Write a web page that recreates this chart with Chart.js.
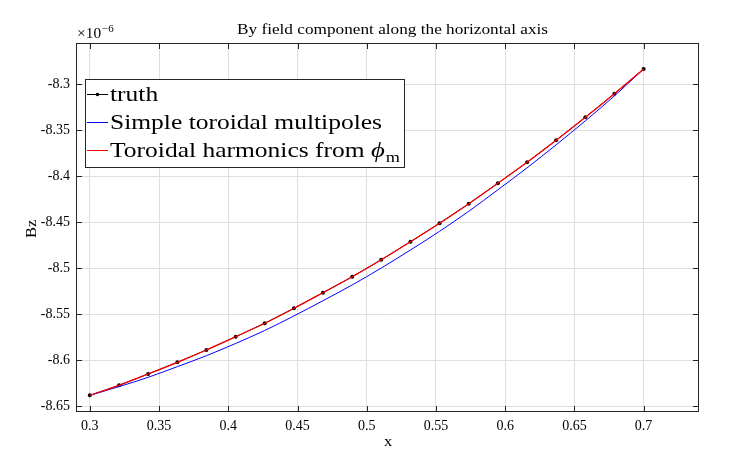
<!DOCTYPE html>
<html>
<head>
<meta charset="utf-8">
<script src="https://cdn.jsdelivr.net/npm/chart.js@4.4.1/dist/chart.umd.min.js"></script>
<style>
  html, body { margin: 0; padding: 0; background: #fff; }
  #wrap { width: 743px; height: 451px; }
</style>
</head>
<body>
<div id="wrap"><canvas id="chart"></canvas></div>
<script>
// values in units of 1e-6 (the axis shows the x10^-6 exponent)
const xVals = [0.3000, 0.3211, 0.3421, 0.3632, 0.3842, 0.4053, 0.4263, 0.4474, 0.4684, 0.4895,
               0.5105, 0.5316, 0.5526, 0.5737, 0.5947, 0.6158, 0.6368, 0.6579, 0.6789, 0.7000];
const truth = [-8.6384, -8.6275, -8.6152, -8.6025, -8.5891, -8.5747, -8.5601, -8.5438, -8.5268, -8.5095,
               -8.4910, -8.4714, -8.4514, -8.4301, -8.4079, -8.3851, -8.3612, -8.3362, -8.3105, -8.2837];
const simpleMultipoles = [-8.6384, -8.6289, -8.6188, -8.6072, -8.5953, -8.5820, -8.5679, -8.5521, -8.5355, -8.5184,
                          -8.5000, -8.4804, -8.4601, -8.4383, -8.4150, -8.3911, -8.3661, -8.3400, -8.3129, -8.2837];
const toroidalHarmonics = [-8.6384, -8.6275, -8.6152, -8.6025, -8.5891, -8.5747, -8.5601, -8.5438, -8.5268, -8.5095,
                           -8.4910, -8.4714, -8.4514, -8.4301, -8.4079, -8.3851, -8.3612, -8.3362, -8.3105, -8.2837];
const xTicks = [0.3, 0.35, 0.4, 0.45, 0.5, 0.55, 0.6, 0.65, 0.7];
const yTicks = [-8.65, -8.6, -8.55, -8.5, -8.45, -8.4, -8.35, -8.3];

const SERIF = '"Liberation Serif", "DejaVu Serif", serif';
const BOX = '#262626';

function pts(ys) {
    return xVals.map((x, i) => ({ x: x, y: ys[i] }));
}

// text stretched sideways by sx (the reference uses a wider serif face)
function wideText(ctx, text, x, y, sx) {
    ctx.save();
    ctx.translate(x, y);
    ctx.scale(sx, 1);
    ctx.fillText(text, 0, 0);
    ctx.restore();
    return ctx.measureText(text).width * sx;
}

// MATLAB style box, inner ticks, labels and legend
const matlabAxes = {
    id: 'matlabAxes',
    afterDraw(chart) {
        const { ctx, chartArea: a, scales } = chart;
        ctx.save();
        ctx.strokeStyle = BOX;
        ctx.lineWidth = 1;
        ctx.strokeRect(a.left + 0.5, a.top + 0.5, a.right - a.left - 1, a.bottom - a.top - 1);
        ctx.beginPath();
        xTicks.forEach(v => {
            const px = Math.round(scales.x.getPixelForValue(v)) + 0.5;
            ctx.moveTo(px, a.bottom); ctx.lineTo(px, a.bottom - 6);
            ctx.moveTo(px, a.top); ctx.lineTo(px, a.top + 6);
        });
        yTicks.forEach(v => {
            const py = Math.round(scales.y.getPixelForValue(v)) + 0.5;
            ctx.moveTo(a.left, py); ctx.lineTo(a.left + 6, py);
            ctx.moveTo(a.right, py); ctx.lineTo(a.right - 6, py);
        });
        ctx.stroke();

        // title, exponent, axis labels
        ctx.fillStyle = '#000';
        ctx.textBaseline = 'alphabetic';
        ctx.textAlign = 'left';
        ctx.font = '15px ' + SERIF;
        const title = 'By field component along the horizontal axis';
        const tsx = 311 / ctx.measureText(title).width;
        wideText(ctx, title, 237, 34, tsx);
        wideText(ctx, 'x', 384, 446, 1.1);
        ctx.save();
        ctx.translate(36, 238);
        ctx.rotate(-Math.PI / 2);
        wideText(ctx, 'Bz', 0, 0, 1.1);
        ctx.restore();
        ctx.font = '14px ' + SERIF;
        const ew = wideText(ctx, '\u00d710', 77, 38, 1.1);
        ctx.font = '10px ' + SERIF;
        wideText(ctx, '\u22126', 77 + ew + 1, 32, 1.1);

        // legend
        const lx = 85, ly = 79, lw = 319, lh = 88;
        ctx.fillStyle = '#fff';
        ctx.fillRect(lx, ly, lw, lh);
        ctx.strokeStyle = BOX;
        ctx.strokeRect(lx + 0.5, ly + 0.5, lw, lh);
        ctx.font = '21px ' + SERIF;
        const lsx = 272 / ctx.measureText('Simple toroidal multipoles').width;
        const rows = [
            { label: 'truth', color: '#000', y: 101, marker: true },
            { label: 'Simple toroidal multipoles', color: '#0000ff', y: 129 },
            { label: 'Toroidal harmonics from ', color: '#ff0000', y: 157, phi: true }
        ];
        rows.forEach(r => {
            const my = r.y - 7;
            ctx.strokeStyle = r.color;
            ctx.lineWidth = 1;
            ctx.beginPath();
            ctx.moveTo(87, my + 0.5); ctx.lineTo(108, my + 0.5);
            ctx.stroke();
            if (r.marker) {
                ctx.fillStyle = '#000';
                ctx.beginPath(); ctx.arc(97.5, my + 0.5, 1.8, 0, Math.PI * 2); ctx.fill();
            }
            ctx.fillStyle = '#000';
            ctx.font = '21px ' + SERIF;
            const w = wideText(ctx, r.label, 110, r.y, lsx);
            if (r.phi) {
                ctx.font = 'italic 22px ' + SERIF;
                const pw = wideText(ctx, '\u03d5', 110 + w, r.y, lsx);
                ctx.font = '15px ' + SERIF;
                wideText(ctx, 'm', 110 + w + pw + 1, r.y + 5, lsx);
            }
        });
        ctx.restore();
    }
};

new Chart(document.getElementById('chart'), {
    type: 'scatter',
    data: {
        datasets: [
            {
                label: 'truth',
                data: pts(truth),
                showLine: true,
                borderColor: '#000',
                backgroundColor: '#000',
                borderWidth: 1,
                pointRadius: 2,
                pointBorderWidth: 0,
                order: 3
            },
            {
                label: 'Simple toroidal multipoles',
                data: pts(simpleMultipoles),
                showLine: true,
                borderColor: '#0000ff',
                borderWidth: 1,
                pointRadius: 0,
                cubicInterpolationMode: 'monotone',
                order: 2
            },
            {
                label: 'Toroidal harmonics from \u03d5m',
                data: pts(toroidalHarmonics),
                showLine: true,
                borderColor: '#ff0000',
                borderWidth: 1.2,
                pointRadius: 0,
                cubicInterpolationMode: 'monotone',
                order: 1
            }
        ]
    },
    options: {
        responsive: true,
        maintainAspectRatio: false,
        animation: false,
        devicePixelRatio: 1,
        layout: { padding: { top: 43, right: 44, left: 0, bottom: 0 } },
        plugins: {
            legend: { display: false },
            title: { display: false },
            tooltip: { enabled: false }
        },
        scales: {
            x: {
                type: 'linear',
                min: 0.29,
                max: 0.74,
                afterBuildTicks: s => { s.ticks = xTicks.map(v => ({ value: v })); },
                afterFit: s => { s.height = 39; },
                grid: { color: '#dfdfdf', drawTicks: false },
                border: { display: false },
                ticks: {
                    padding: 6,
                    color: '#000',
                    font: { family: SERIF, size: 14 },
                    callback: v => String(v)
                }
            },
            y: {
                type: 'linear',
                min: -8.6565,
                max: -8.2554,
                afterBuildTicks: s => { s.ticks = yTicks.map(v => ({ value: v })); },
                afterFit: s => { s.width = 76; },
                grid: { color: '#dfdfdf', drawTicks: false },
                border: { display: false },
                ticks: {
                    padding: 6,
                    color: '#000',
                    font: { family: SERIF, size: 14 },
                    callback: v => String(v)
                }
            }
        }
    },
    plugins: [matlabAxes]
});
</script>
</body>
</html>
